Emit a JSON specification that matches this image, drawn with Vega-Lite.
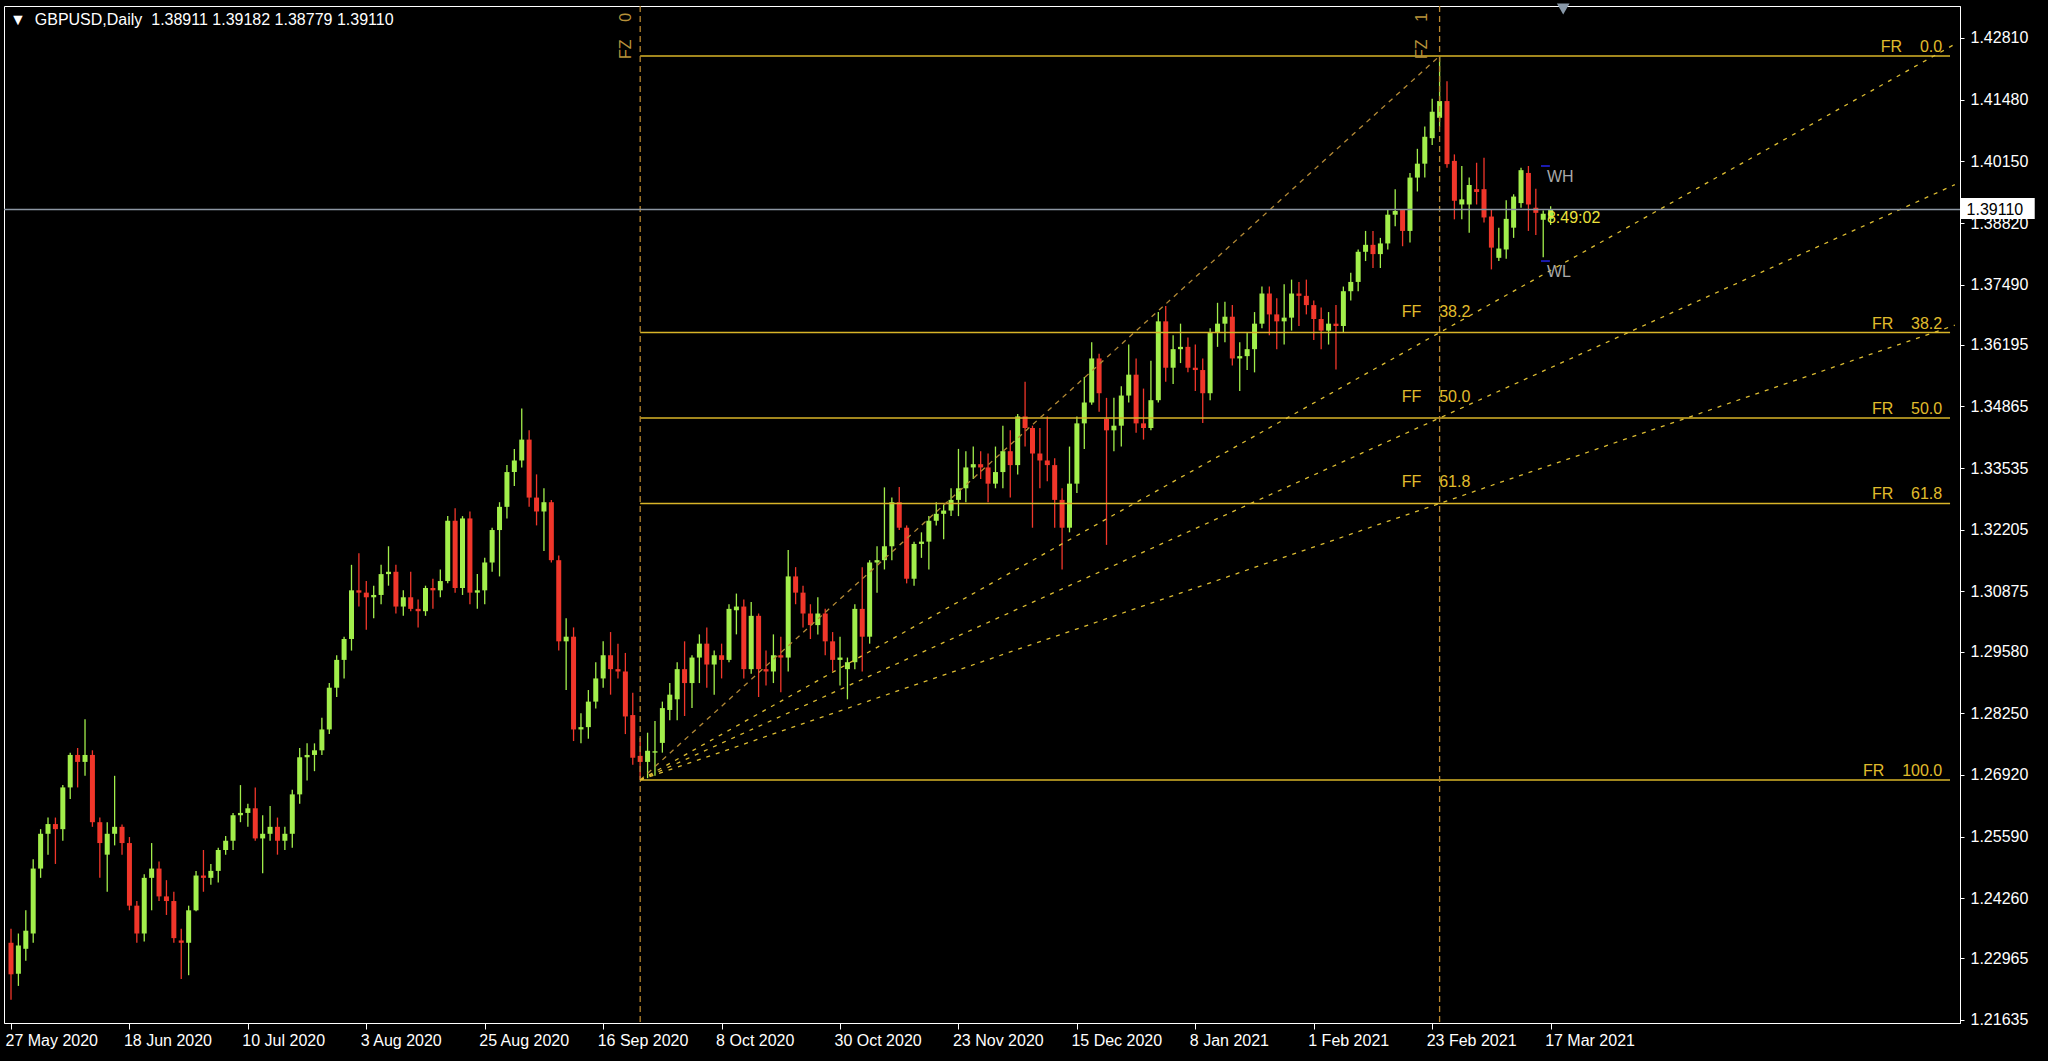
{
"$schema": "https://vega.github.io/schema/vega-lite/v6.json",
"width": 1956, "height": 1017,
"autosize": {"type": "none"},
"padding": {"left": 4, "top": 6, "right": 88, "bottom": 38},
"background": "#000000",
"config": {"view": {"stroke": "#FFFFFF", "strokeWidth": 1}, "font": "Liberation Sans", "text": {"font": "Liberation Sans", "fontSize": 16}, "axis": {"grid": false}},
"datasets": {
"candles": [
{"d":"2020-05-27","i":0,"o":1.2330,"h":1.2360,"l":1.2207,"c":1.2262},
{"d":"2020-05-28","i":1,"o":1.2263,"h":1.2350,"l":1.2237,"c":1.2324},
{"d":"2020-05-29","i":2,"o":1.2317,"h":1.2400,"l":1.2291,"c":1.2356},
{"d":"2020-06-01","i":3,"o":1.2350,"h":1.2510,"l":1.2330,"c":1.2490},
{"d":"2020-06-02","i":4,"o":1.2490,"h":1.2575,"l":1.2470,"c":1.2565},
{"d":"2020-06-03","i":5,"o":1.2565,"h":1.2600,"l":1.2520,"c":1.2586},
{"d":"2020-06-04","i":6,"o":1.2586,"h":1.2600,"l":1.2500,"c":1.2575},
{"d":"2020-06-05","i":7,"o":1.2575,"h":1.2670,"l":1.2550,"c":1.2665},
{"d":"2020-06-08","i":8,"o":1.2665,"h":1.2740,"l":1.2640,"c":1.2735},
{"d":"2020-06-09","i":9,"o":1.2735,"h":1.2750,"l":1.2665,"c":1.2720},
{"d":"2020-06-10","i":10,"o":1.2720,"h":1.2812,"l":1.2690,"c":1.2735},
{"d":"2020-06-11","i":11,"o":1.2735,"h":1.2745,"l":1.2580,"c":1.2590},
{"d":"2020-06-12","i":12,"o":1.2590,"h":1.2600,"l":1.2470,"c":1.2545},
{"d":"2020-06-15","i":13,"o":1.2520,"h":1.2590,"l":1.2440,"c":1.2565},
{"d":"2020-06-16","i":14,"o":1.2565,"h":1.2690,"l":1.2540,"c":1.2580},
{"d":"2020-06-17","i":15,"o":1.2580,"h":1.2585,"l":1.2520,"c":1.2545},
{"d":"2020-06-18","i":16,"o":1.2545,"h":1.2558,"l":1.2400,"c":1.2410},
{"d":"2020-06-19","i":17,"o":1.2410,"h":1.2420,"l":1.2330,"c":1.2350},
{"d":"2020-06-22","i":18,"o":1.2350,"h":1.2478,"l":1.2333,"c":1.2470},
{"d":"2020-06-23","i":19,"o":1.2470,"h":1.2545,"l":1.2400,"c":1.2490},
{"d":"2020-06-24","i":20,"o":1.2490,"h":1.2505,"l":1.2420,"c":1.2430},
{"d":"2020-06-25","i":21,"o":1.2430,"h":1.2465,"l":1.2390,"c":1.2420},
{"d":"2020-06-26","i":22,"o":1.2420,"h":1.2440,"l":1.2330,"c":1.2340},
{"d":"2020-06-29","i":23,"o":1.2335,"h":1.2360,"l":1.2252,"c":1.2330},
{"d":"2020-06-30","i":24,"o":1.2330,"h":1.2410,"l":1.2260,"c":1.2400},
{"d":"2020-07-01","i":25,"o":1.2400,"h":1.2485,"l":1.2398,"c":1.2475},
{"d":"2020-07-02","i":26,"o":1.2475,"h":1.2530,"l":1.2440,"c":1.2470},
{"d":"2020-07-03","i":27,"o":1.2470,"h":1.2500,"l":1.2455,"c":1.2485},
{"d":"2020-07-06","i":28,"o":1.2485,"h":1.2535,"l":1.2460,"c":1.2530},
{"d":"2020-07-07","i":29,"o":1.2530,"h":1.2560,"l":1.2520,"c":1.2550},
{"d":"2020-07-08","i":30,"o":1.2550,"h":1.2610,"l":1.2530,"c":1.2605},
{"d":"2020-07-09","i":31,"o":1.2605,"h":1.2670,"l":1.2590,"c":1.2610},
{"d":"2020-07-10","i":32,"o":1.2610,"h":1.2630,"l":1.2580,"c":1.2620},
{"d":"2020-07-13","i":33,"o":1.2620,"h":1.2665,"l":1.2550,"c":1.2555},
{"d":"2020-07-14","i":34,"o":1.2555,"h":1.2605,"l":1.2480,"c":1.2565},
{"d":"2020-07-15","i":35,"o":1.2565,"h":1.2625,"l":1.2550,"c":1.2580},
{"d":"2020-07-16","i":36,"o":1.2580,"h":1.2600,"l":1.2520,"c":1.2550},
{"d":"2020-07-17","i":37,"o":1.2550,"h":1.2580,"l":1.2530,"c":1.2565},
{"d":"2020-07-20","i":38,"o":1.2565,"h":1.2660,"l":1.2535,"c":1.2650},
{"d":"2020-07-21","i":39,"o":1.2650,"h":1.2750,"l":1.2630,"c":1.2730},
{"d":"2020-07-22","i":40,"o":1.2730,"h":1.2760,"l":1.2680,"c":1.2735},
{"d":"2020-07-23","i":41,"o":1.2735,"h":1.2760,"l":1.2700,"c":1.2745},
{"d":"2020-07-24","i":42,"o":1.2745,"h":1.2815,"l":1.2735,"c":1.2790},
{"d":"2020-07-27","i":43,"o":1.2790,"h":1.2890,"l":1.2780,"c":1.2880},
{"d":"2020-07-28","i":44,"o":1.2880,"h":1.2950,"l":1.2860,"c":1.2940},
{"d":"2020-07-29","i":45,"o":1.2940,"h":1.2990,"l":1.2900,"c":1.2985},
{"d":"2020-07-30","i":46,"o":1.2985,"h":1.3145,"l":1.2960,"c":1.3090},
{"d":"2020-07-31","i":47,"o":1.3090,"h":1.3170,"l":1.3055,"c":1.3085},
{"d":"2020-08-03","i":48,"o":1.3085,"h":1.3110,"l":1.3005,"c":1.3075},
{"d":"2020-08-04","i":49,"o":1.3075,"h":1.3100,"l":1.3030,"c":1.3080},
{"d":"2020-08-05","i":50,"o":1.3080,"h":1.3145,"l":1.3060,"c":1.3125},
{"d":"2020-08-06","i":51,"o":1.3125,"h":1.3185,"l":1.3100,"c":1.3130},
{"d":"2020-08-07","i":52,"o":1.3130,"h":1.3145,"l":1.3040,"c":1.3055},
{"d":"2020-08-10","i":53,"o":1.3055,"h":1.3090,"l":1.3035,"c":1.3075},
{"d":"2020-08-11","i":54,"o":1.3075,"h":1.3130,"l":1.3045,"c":1.3050},
{"d":"2020-08-12","i":55,"o":1.3050,"h":1.3070,"l":1.3010,"c":1.3045},
{"d":"2020-08-13","i":56,"o":1.3045,"h":1.3100,"l":1.3035,"c":1.3095},
{"d":"2020-08-14","i":57,"o":1.3095,"h":1.3115,"l":1.3050,"c":1.3090},
{"d":"2020-08-17","i":58,"o":1.3090,"h":1.3135,"l":1.3075,"c":1.3110},
{"d":"2020-08-18","i":59,"o":1.3110,"h":1.3250,"l":1.3105,"c":1.3240},
{"d":"2020-08-19","i":60,"o":1.3240,"h":1.3267,"l":1.3085,"c":1.3095},
{"d":"2020-08-20","i":61,"o":1.3095,"h":1.3250,"l":1.3080,"c":1.3245},
{"d":"2020-08-21","i":62,"o":1.3245,"h":1.3260,"l":1.3060,"c":1.3085},
{"d":"2020-08-24","i":63,"o":1.3085,"h":1.3125,"l":1.3050,"c":1.3090},
{"d":"2020-08-25","i":64,"o":1.3090,"h":1.3160,"l":1.3060,"c":1.3150},
{"d":"2020-08-26","i":65,"o":1.3150,"h":1.3225,"l":1.3130,"c":1.3220},
{"d":"2020-08-27","i":66,"o":1.3220,"h":1.3280,"l":1.3120,"c":1.3270},
{"d":"2020-08-28","i":67,"o":1.3270,"h":1.3360,"l":1.3245,"c":1.3345},
{"d":"2020-08-31","i":68,"o":1.3345,"h":1.3395,"l":1.3315,"c":1.3370},
{"d":"2020-09-01","i":69,"o":1.3370,"h":1.3482,"l":1.3355,"c":1.3415},
{"d":"2020-09-02","i":70,"o":1.3415,"h":1.3435,"l":1.3270,"c":1.3290},
{"d":"2020-09-03","i":71,"o":1.3290,"h":1.3340,"l":1.3230,"c":1.3260},
{"d":"2020-09-04","i":72,"o":1.3260,"h":1.3310,"l":1.3175,"c":1.3280},
{"d":"2020-09-07","i":73,"o":1.3280,"h":1.3285,"l":1.3150,"c":1.3155},
{"d":"2020-09-08","i":74,"o":1.3155,"h":1.3165,"l":1.2960,"c":1.2980},
{"d":"2020-09-09","i":75,"o":1.2980,"h":1.3030,"l":1.2875,"c":1.2990},
{"d":"2020-09-10","i":76,"o":1.2990,"h":1.3010,"l":1.2765,"c":1.2790},
{"d":"2020-09-11","i":77,"o":1.2790,"h":1.2825,"l":1.2760,"c":1.2795},
{"d":"2020-09-14","i":78,"o":1.2795,"h":1.2875,"l":1.2770,"c":1.2850},
{"d":"2020-09-15","i":79,"o":1.2850,"h":1.2935,"l":1.2835,"c":1.2900},
{"d":"2020-09-16","i":80,"o":1.2900,"h":1.2980,"l":1.2880,"c":1.2950},
{"d":"2020-09-17","i":81,"o":1.2950,"h":1.3000,"l":1.2865,"c":1.2920},
{"d":"2020-09-18","i":82,"o":1.2920,"h":1.2975,"l":1.2900,"c":1.2915},
{"d":"2020-09-21","i":83,"o":1.2915,"h":1.2955,"l":1.2780,"c":1.2818},
{"d":"2020-09-22","i":84,"o":1.2821,"h":1.2869,"l":1.2714,"c":1.2729},
{"d":"2020-09-23","i":85,"o":1.2733,"h":1.2772,"l":1.2681,"c":1.2720},
{"d":"2020-09-24","i":86,"o":1.2720,"h":1.2783,"l":1.2685,"c":1.2744},
{"d":"2020-09-25","i":87,"o":1.2740,"h":1.2808,"l":1.2690,"c":1.2743},
{"d":"2020-09-28","i":88,"o":1.2761,"h":1.2850,"l":1.2740,"c":1.2836},
{"d":"2020-09-29","i":89,"o":1.2832,"h":1.2890,"l":1.2810,"c":1.2865},
{"d":"2020-09-30","i":90,"o":1.2855,"h":1.2935,"l":1.2810,"c":1.2920},
{"d":"2020-10-01","i":91,"o":1.2920,"h":1.2980,"l":1.2819,"c":1.2890},
{"d":"2020-10-02","i":92,"o":1.2890,"h":1.2950,"l":1.2836,"c":1.2945},
{"d":"2020-10-05","i":93,"o":1.2945,"h":1.2995,"l":1.2890,"c":1.2975},
{"d":"2020-10-06","i":94,"o":1.2975,"h":1.3010,"l":1.2880,"c":1.2930},
{"d":"2020-10-07","i":95,"o":1.2930,"h":1.2960,"l":1.2865,"c":1.2950},
{"d":"2020-10-08","i":96,"o":1.2950,"h":1.2975,"l":1.2900,"c":1.2940},
{"d":"2020-10-09","i":97,"o":1.2940,"h":1.3060,"l":1.2935,"c":1.3050},
{"d":"2020-10-12","i":98,"o":1.3047,"h":1.3083,"l":1.2995,"c":1.3055},
{"d":"2020-10-13","i":99,"o":1.3055,"h":1.3070,"l":1.2900,"c":1.2920},
{"d":"2020-10-14","i":100,"o":1.2920,"h":1.3065,"l":1.2910,"c":1.3035},
{"d":"2020-10-15","i":101,"o":1.3035,"h":1.3040,"l":1.2860,"c":1.2920},
{"d":"2020-10-16","i":102,"o":1.2920,"h":1.2960,"l":1.2885,"c":1.2915},
{"d":"2020-10-19","i":103,"o":1.2915,"h":1.2995,"l":1.2890,"c":1.2950},
{"d":"2020-10-20","i":104,"o":1.2950,"h":1.2990,"l":1.2870,"c":1.2945},
{"d":"2020-10-21","i":105,"o":1.2945,"h":1.3177,"l":1.2915,"c":1.3120},
{"d":"2020-10-22","i":106,"o":1.3120,"h":1.3140,"l":1.3060,"c":1.3085},
{"d":"2020-10-23","i":107,"o":1.3085,"h":1.3100,"l":1.3010,"c":1.3040},
{"d":"2020-10-26","i":108,"o":1.3040,"h":1.3060,"l":1.2985,"c":1.3015},
{"d":"2020-10-27","i":109,"o":1.3015,"h":1.3075,"l":1.2995,"c":1.3040},
{"d":"2020-10-28","i":110,"o":1.3040,"h":1.3050,"l":1.2950,"c":1.2980},
{"d":"2020-10-29","i":111,"o":1.2980,"h":1.3000,"l":1.2915,"c":1.2940},
{"d":"2020-10-30","i":112,"o":1.2940,"h":1.2990,"l":1.2885,"c":1.2945},
{"d":"2020-11-02","i":113,"o":1.2920,"h":1.2945,"l":1.2855,"c":1.2935},
{"d":"2020-11-03","i":114,"o":1.2935,"h":1.3060,"l":1.2920,"c":1.3050},
{"d":"2020-11-04","i":115,"o":1.3050,"h":1.3140,"l":1.2915,"c":1.2990},
{"d":"2020-11-05","i":116,"o":1.2990,"h":1.3155,"l":1.2975,"c":1.3150},
{"d":"2020-11-06","i":117,"o":1.3150,"h":1.3185,"l":1.3085,"c":1.3155},
{"d":"2020-11-09","i":118,"o":1.3155,"h":1.3312,"l":1.3135,"c":1.3185},
{"d":"2020-11-10","i":119,"o":1.3185,"h":1.3290,"l":1.3155,"c":1.3280},
{"d":"2020-11-11","i":120,"o":1.3280,"h":1.3313,"l":1.3220,"c":1.3225},
{"d":"2020-11-12","i":121,"o":1.3225,"h":1.3230,"l":1.3105,"c":1.3115},
{"d":"2020-11-13","i":122,"o":1.3115,"h":1.3195,"l":1.3100,"c":1.3190},
{"d":"2020-11-16","i":123,"o":1.3190,"h":1.3215,"l":1.3160,"c":1.3195},
{"d":"2020-11-17","i":124,"o":1.3195,"h":1.3250,"l":1.3135,"c":1.3240},
{"d":"2020-11-18","i":125,"o":1.3240,"h":1.3280,"l":1.3230,"c":1.3255},
{"d":"2020-11-19","i":126,"o":1.3255,"h":1.3275,"l":1.3200,"c":1.3262},
{"d":"2020-11-20","i":127,"o":1.3262,"h":1.3310,"l":1.3250,"c":1.3285},
{"d":"2020-11-23","i":128,"o":1.3285,"h":1.3395,"l":1.3250,"c":1.3310},
{"d":"2020-11-24","i":129,"o":1.3310,"h":1.3390,"l":1.3280,"c":1.3355},
{"d":"2020-11-25","i":130,"o":1.3355,"h":1.3400,"l":1.3330,"c":1.3362},
{"d":"2020-11-26","i":131,"o":1.3362,"h":1.3390,"l":1.3330,"c":1.3355},
{"d":"2020-11-27","i":132,"o":1.3355,"h":1.3385,"l":1.3280,"c":1.3320},
{"d":"2020-11-30","i":133,"o":1.3320,"h":1.3400,"l":1.3310,"c":1.3345},
{"d":"2020-12-01","i":134,"o":1.3345,"h":1.3445,"l":1.3310,"c":1.3390},
{"d":"2020-12-02","i":135,"o":1.3390,"h":1.3435,"l":1.3290,"c":1.3360},
{"d":"2020-12-03","i":136,"o":1.3360,"h":1.3470,"l":1.3340,"c":1.3465},
{"d":"2020-12-04","i":137,"o":1.3465,"h":1.3540,"l":1.3400,"c":1.3440},
{"d":"2020-12-07","i":138,"o":1.3440,"h":1.3445,"l":1.3225,"c":1.3385},
{"d":"2020-12-08","i":139,"o":1.3385,"h":1.3440,"l":1.3310,"c":1.3370},
{"d":"2020-12-09","i":140,"o":1.3370,"h":1.3465,"l":1.3325,"c":1.3360},
{"d":"2020-12-10","i":141,"o":1.3360,"h":1.3375,"l":1.3225,"c":1.3285},
{"d":"2020-12-11","i":142,"o":1.3285,"h":1.3310,"l":1.3135,"c":1.3225},
{"d":"2020-12-14","i":143,"o":1.3225,"h":1.3400,"l":1.3215,"c":1.3320},
{"d":"2020-12-15","i":144,"o":1.3320,"h":1.3465,"l":1.3300,"c":1.3450},
{"d":"2020-12-16","i":145,"o":1.3450,"h":1.3550,"l":1.3395,"c":1.3495},
{"d":"2020-12-17","i":146,"o":1.3495,"h":1.3625,"l":1.3490,"c":1.3590},
{"d":"2020-12-18","i":147,"o":1.3590,"h":1.3600,"l":1.3475,"c":1.3515},
{"d":"2020-12-21","i":148,"o":1.3460,"h":1.3505,"l":1.3188,"c":1.3435},
{"d":"2020-12-22","i":149,"o":1.3435,"h":1.3505,"l":1.3390,"c":1.3445},
{"d":"2020-12-23","i":150,"o":1.3445,"h":1.3530,"l":1.3400,"c":1.3510},
{"d":"2020-12-24","i":151,"o":1.3510,"h":1.3620,"l":1.3495,"c":1.3555},
{"d":"2020-12-28","i":152,"o":1.3555,"h":1.3590,"l":1.3430,"c":1.3450},
{"d":"2020-12-29","i":153,"o":1.3450,"h":1.3525,"l":1.3415,"c":1.3440},
{"d":"2020-12-30","i":154,"o":1.3440,"h":1.3585,"l":1.3435,"c":1.3500},
{"d":"2020-12-31","i":155,"o":1.3500,"h":1.3690,"l":1.3495,"c":1.3670},
{"d":"2021-01-04","i":156,"o":1.3670,"h":1.3703,"l":1.3540,"c":1.3570},
{"d":"2021-01-05","i":157,"o":1.3570,"h":1.3640,"l":1.3535,"c":1.3610},
{"d":"2021-01-06","i":158,"o":1.3610,"h":1.3665,"l":1.3580,"c":1.3615},
{"d":"2021-01-07","i":159,"o":1.3615,"h":1.3635,"l":1.3560,"c":1.3570},
{"d":"2021-01-08","i":160,"o":1.3570,"h":1.3620,"l":1.3520,"c":1.3565},
{"d":"2021-01-11","i":161,"o":1.3565,"h":1.3590,"l":1.3451,"c":1.3515},
{"d":"2021-01-12","i":162,"o":1.3515,"h":1.3655,"l":1.3500,"c":1.3645},
{"d":"2021-01-13","i":163,"o":1.3645,"h":1.3710,"l":1.3615,"c":1.3665},
{"d":"2021-01-14","i":164,"o":1.3665,"h":1.3712,"l":1.3625,"c":1.3680},
{"d":"2021-01-15","i":165,"o":1.3680,"h":1.3705,"l":1.3575,"c":1.3590},
{"d":"2021-01-18","i":166,"o":1.3590,"h":1.3625,"l":1.3520,"c":1.3595},
{"d":"2021-01-19","i":167,"o":1.3595,"h":1.3645,"l":1.3565,"c":1.3610},
{"d":"2021-01-20","i":168,"o":1.3610,"h":1.3690,"l":1.3560,"c":1.3665},
{"d":"2021-01-21","i":169,"o":1.3665,"h":1.3745,"l":1.3655,"c":1.3730},
{"d":"2021-01-22","i":170,"o":1.3730,"h":1.3745,"l":1.3640,"c":1.3685},
{"d":"2021-01-25","i":171,"o":1.3685,"h":1.3720,"l":1.3610,"c":1.3670},
{"d":"2021-01-26","i":172,"o":1.3670,"h":1.3750,"l":1.3620,"c":1.3678},
{"d":"2021-01-27","i":173,"o":1.3678,"h":1.3760,"l":1.3650,"c":1.3730},
{"d":"2021-01-28","i":174,"o":1.3730,"h":1.3755,"l":1.3660,"c":1.3725},
{"d":"2021-01-29","i":175,"o":1.3725,"h":1.3760,"l":1.3685,"c":1.3705},
{"d":"2021-02-01","i":176,"o":1.3705,"h":1.3715,"l":1.3630,"c":1.3675},
{"d":"2021-02-02","i":177,"o":1.3675,"h":1.3700,"l":1.3610,"c":1.3650},
{"d":"2021-02-03","i":178,"o":1.3650,"h":1.3690,"l":1.3620,"c":1.3665},
{"d":"2021-02-04","i":179,"o":1.3665,"h":1.3705,"l":1.3566,"c":1.3660},
{"d":"2021-02-05","i":180,"o":1.3660,"h":1.3745,"l":1.3645,"c":1.3735},
{"d":"2021-02-08","i":181,"o":1.3735,"h":1.3775,"l":1.3715,"c":1.3755},
{"d":"2021-02-09","i":182,"o":1.3755,"h":1.3825,"l":1.3735,"c":1.3820},
{"d":"2021-02-10","i":183,"o":1.3820,"h":1.3865,"l":1.3800,"c":1.3835},
{"d":"2021-02-11","i":184,"o":1.3835,"h":1.3865,"l":1.3785,"c":1.3815},
{"d":"2021-02-12","i":185,"o":1.3815,"h":1.3850,"l":1.3785,"c":1.3838},
{"d":"2021-02-15","i":186,"o":1.3838,"h":1.3910,"l":1.3825,"c":1.3900},
{"d":"2021-02-16","i":187,"o":1.3900,"h":1.3955,"l":1.3875,"c":1.3908},
{"d":"2021-02-17","i":188,"o":1.3910,"h":1.3912,"l":1.3832,"c":1.3865},
{"d":"2021-02-18","i":189,"o":1.3865,"h":1.3990,"l":1.3840,"c":1.3980},
{"d":"2021-02-19","i":190,"o":1.3980,"h":1.4042,"l":1.3950,"c":1.4010},
{"d":"2021-02-22","i":191,"o":1.4010,"h":1.4090,"l":1.3980,"c":1.4068},
{"d":"2021-02-23","i":192,"o":1.4065,"h":1.4150,"l":1.4050,"c":1.4122},
{"d":"2021-02-24","i":193,"o":1.4109,"h":1.4242,"l":1.4090,"c":1.4145},
{"d":"2021-02-25","i":194,"o":1.4145,"h":1.4188,"l":1.4001,"c":1.4009},
{"d":"2021-02-26","i":195,"o":1.4016,"h":1.4030,"l":1.3890,"c":1.3930},
{"d":"2021-03-01","i":196,"o":1.3922,"h":1.4005,"l":1.3890,"c":1.3933},
{"d":"2021-03-02","i":197,"o":1.3922,"h":1.3980,"l":1.3861,"c":1.3964},
{"d":"2021-03-03","i":198,"o":1.3955,"h":1.4012,"l":1.3922,"c":1.3949},
{"d":"2021-03-04","i":199,"o":1.3955,"h":1.4023,"l":1.3883,"c":1.3894},
{"d":"2021-03-05","i":200,"o":1.3896,"h":1.3912,"l":1.3782,"c":1.3829},
{"d":"2021-03-08","i":201,"o":1.3807,"h":1.3872,"l":1.3800,"c":1.3827},
{"d":"2021-03-09","i":202,"o":1.3825,"h":1.3931,"l":1.3805,"c":1.3891},
{"d":"2021-03-10","i":203,"o":1.3872,"h":1.3944,"l":1.3850,"c":1.3939},
{"d":"2021-03-11","i":204,"o":1.3925,"h":1.4001,"l":1.3915,"c":1.3996},
{"d":"2021-03-12","i":205,"o":1.3990,"h":1.4005,"l":1.3865,"c":1.3922},
{"d":"2021-03-15","i":206,"o":1.3915,"h":1.3956,"l":1.3856,"c":1.3904},
{"d":"2021-03-16","i":207,"o":1.3889,"h":1.3909,"l":1.3808,"c":1.3902},
{"d":"2021-03-17","i":208,"o":1.38911,"h":1.39182,"l":1.38779,"c":1.39110}
],
"fib": [
{"p":1.42422,"fr":"FR\u00a0\u00a0\u00a0\u00a00.0"},
{"p":1.36458,"fr":"FR\u00a0\u00a0\u00a0\u00a038.2","ff":"FF\u00a0\u00a0\u00a0\u00a038.2"},
{"p":1.34616,"fr":"FR\u00a0\u00a0\u00a0\u00a050.0","ff":"FF\u00a0\u00a0\u00a0\u00a050.0"},
{"p":1.32774,"fr":"FR\u00a0\u00a0\u00a0\u00a061.8","ff":"FF\u00a0\u00a0\u00a0\u00a061.8"},
{"p":1.2681,"fr":"FR\u00a0\u00a0\u00a0\u00a0100.0"}
],
"fz": [
{"i":85,"t":"FZ\u00a0\u00a0\u00a0\u00a00","ti":83.1},
{"i":193,"t":"FZ\u00a0\u00a0\u00a0\u00a01","ti":190.6}
],
"trend": [
{"i":85,"p":1.2681},
{"i":193,"p":1.42422}
],
"fan": [
{"k":"38.2","i":85,"p":1.2681},{"k":"38.2","i":262.6,"p":1.42676},
{"k":"50.0","i":85,"p":1.2681},{"k":"50.0","i":262.6,"p":1.39647},
{"k":"61.8","i":85,"p":1.2681},{"k":"61.8","i":262.6,"p":1.36617}
],
"week": [
{"t":"WH","p":1.4005,"tp":1.39813},
{"t":"WL","p":1.3800,"tp":1.37764}
],
"price": [
{"p":1.3911,"t":"1.39110","top":1.3936,"bot":1.38907}
],
"info": [
{"t":"▼\u00a0\u00a0GBPUSD,Daily\u00a0\u00a01.38911 1.39182 1.38779 1.39110","timer":"8:49:02"}
]
},
"layer": [
{
"data": {"name": "candles"},
"mark": {"type": "rule", "strokeWidth": 1.3},
"encoding": {
"x": {"field": "i", "type": "quantitative", "scale": {"domain": [-0.27, 262.63], "nice": false, "zero": false},
 "axis": {"values": [0,16,32,48,64,80,96,112,128,144,160,176,192,208],
  "labelExpr": "['27 May 2020','18 Jun 2020','10 Jul 2020','3 Aug 2020','25 Aug 2020','16 Sep 2020','8 Oct 2020','30 Oct 2020','23 Nov 2020','15 Dec 2020','8 Jan 2021','1 Feb 2021','23 Feb 2021','17 Mar 2021'][round(datum.value/16)]",
  "title": null, "grid": false, "domainColor": "#FFFFFF", "tickColor": "#FFFFFF", "tickSize": 6,
  "labelColor": "#FFFFFF", "labelFont": "Liberation Sans", "labelFontSize": 16, "labelAlign": "left", "labelBaseline": "top",
  "labelPadding": 3, "labelFlush": false, "labelOverlap": false, "labelOffset": -6}},
"y": {"field": "l", "type": "quantitative", "scale": {"domain": [1.2157, 1.435], "nice": false, "zero": false},
 "axis": {"orient": "right", "values": [1.4281,1.4148,1.4015,1.3882,1.3749,1.36195,1.34865,1.33535,1.32205,1.30875,1.2958,1.2825,1.2692,1.2559,1.2426,1.22965,1.21635],
  "format": ".5f", "title": null, "grid": false, "domainColor": "#FFFFFF", "tickColor": "#FFFFFF", "tickSize": 4,
  "labelColor": "#FFFFFF", "labelFont": "Liberation Sans", "labelFontSize": 16, "labelPadding": 6, "labelFlush": false, "labelOverlap": false}},
"y2": {"field": "h"},
"color": {"condition": {"test": "datum.c >= datum.o", "value": "#A2EE4B"}, "value": "#F0362A"}
}
},
{
"data": {"name": "candles"},
"mark": {"type": "bar", "size": 5},
"encoding": {
"x": {"field": "i", "type": "quantitative", "scale": {"domain": [-0.27, 262.63], "nice": false, "zero": false}},
"y": {"field": "o", "type": "quantitative", "scale": {"domain": [1.2157, 1.435], "nice": false, "zero": false}},
"y2": {"field": "c"},
"color": {"condition": {"test": "datum.c >= datum.o", "value": "#A2EE4B"}, "value": "#F0362A"}
}
},
{
"data": {"name": "fib"},
"mark": {"type": "rule", "color": "#D8B428", "strokeWidth": 1.5},
"encoding": {
"x": {"datum": 85, "type": "quantitative", "scale": {"domain": [-0.27, 262.63], "nice": false, "zero": false}},
"x2": {"datum": 261.96},
"y": {"field": "p", "type": "quantitative", "scale": {"domain": [1.2157, 1.435], "nice": false, "zero": false}}
}
},
{
"data": {"name": "fz"},
"mark": {"type": "rule", "color": "#B8862E", "strokeWidth": 1.3, "strokeDash": [6, 4]},
"encoding": {
"x": {"field": "i", "type": "quantitative", "scale": {"domain": [-0.27, 262.63], "nice": false, "zero": false}}
}
},
{
"data": {"name": "trend"},
"mark": {"type": "line", "color": "#B48A35", "strokeWidth": 1.3, "strokeDash": [5, 5]},
"encoding": {
"x": {"field": "i", "type": "quantitative", "scale": {"domain": [-0.27, 262.63], "nice": false, "zero": false}},
"y": {"field": "p", "type": "quantitative", "scale": {"domain": [1.2157, 1.435], "nice": false, "zero": false}}
}
},
{
"data": {"name": "fan"},
"mark": {"type": "line", "color": "#DCBC32", "strokeWidth": 1.3, "strokeDash": [4, 6]},
"encoding": {
"x": {"field": "i", "type": "quantitative", "scale": {"domain": [-0.27, 262.63], "nice": false, "zero": false}},
"y": {"field": "p", "type": "quantitative", "scale": {"domain": [1.2157, 1.435], "nice": false, "zero": false}},
"detail": {"field": "k"}
}
},
{
"data": {"name": "fib"},
"mark": {"type": "text", "align": "right", "baseline": "alphabetic", "dy": -4, "color": "#E0BC2C", "fontSize": 16},
"encoding": {
"x": {"datum": 260.9, "type": "quantitative", "scale": {"domain": [-0.27, 262.63], "nice": false, "zero": false}},
"y": {"field": "p", "type": "quantitative", "scale": {"domain": [1.2157, 1.435], "nice": false, "zero": false}},
"text": {"field": "fr"}
}
},
{
"data": {"name": "fib"},
"transform": [{"filter": "datum.ff"}],
"mark": {"type": "text", "align": "left", "baseline": "alphabetic", "dy": -16, "color": "#E0BC2C", "fontSize": 16},
"encoding": {
"x": {"datum": 187.9, "type": "quantitative", "scale": {"domain": [-0.27, 262.63], "nice": false, "zero": false}},
"y": {"field": "p", "type": "quantitative", "scale": {"domain": [1.2157, 1.435], "nice": false, "zero": false}},
"text": {"field": "ff"}
}
},
{
"data": {"name": "fz"},
"mark": {"type": "text", "angle": 270, "align": "left", "baseline": "middle", "color": "#B8923A", "fontSize": 16},
"encoding": {
"x": {"field": "ti", "type": "quantitative", "scale": {"domain": [-0.27, 262.63], "nice": false, "zero": false}},
"y": {"datum": 1.42357, "type": "quantitative", "scale": {"domain": [1.2157, 1.435], "nice": false, "zero": false}},
"text": {"field": "t"}
}
},
{
"data": {"name": "price"},
"mark": {"type": "rule", "color": "#8C96A2", "strokeWidth": 1.5},
"encoding": {
"y": {"field": "p", "type": "quantitative", "scale": {"domain": [1.2157, 1.435], "nice": false, "zero": false}}
}
},
{
"data": {"name": "week"},
"mark": {"type": "rule", "color": "#1A1AB0", "strokeWidth": 2},
"encoding": {
"x": {"datum": 206.7, "type": "quantitative", "scale": {"domain": [-0.27, 262.63], "nice": false, "zero": false}},
"x2": {"datum": 207.9},
"y": {"field": "p", "type": "quantitative", "scale": {"domain": [1.2157, 1.435], "nice": false, "zero": false}}
}
},
{
"data": {"name": "week"},
"mark": {"type": "text", "align": "left", "baseline": "middle", "color": "#A8A8A8", "fontSize": 16},
"encoding": {
"x": {"datum": 207.5, "type": "quantitative", "scale": {"domain": [-0.27, 262.63], "nice": false, "zero": false}},
"y": {"field": "tp", "type": "quantitative", "scale": {"domain": [1.2157, 1.435], "nice": false, "zero": false}},
"text": {"field": "t"}
}
},
{
"data": {"name": "info"},
"mark": {"type": "text", "align": "left", "baseline": "middle", "color": "#ECE23C", "fontSize": 16},
"encoding": {
"x": {"datum": 207.5, "type": "quantitative", "scale": {"domain": [-0.27, 262.63], "nice": false, "zero": false}},
"y": {"datum": 1.38929, "type": "quantitative", "scale": {"domain": [1.2157, 1.435], "nice": false, "zero": false}},
"text": {"field": "timer"}
}
},
{
"data": {"name": "info"},
"mark": {"type": "text", "align": "left", "baseline": "middle", "color": "#FFFFFF", "fontSize": 16},
"encoding": {
"x": {"datum": -0.13, "type": "quantitative", "scale": {"domain": [-0.27, 262.63], "nice": false, "zero": false}},
"y": {"datum": 1.43198, "type": "quantitative", "scale": {"domain": [1.2157, 1.435], "nice": false, "zero": false}},
"text": {"field": "t"}
}
},
{
"data": {"name": "info"},
"mark": {"type": "point", "shape": "triangle-down", "filled": true, "color": "#8898A8", "size": 160, "opacity": 1, "clip": false},
"encoding": {
"x": {"datum": 209.7, "type": "quantitative", "scale": {"domain": [-0.27, 262.63], "nice": false, "zero": false}},
"y": {"datum": 1.43435, "type": "quantitative", "scale": {"domain": [1.2157, 1.435], "nice": false, "zero": false}}
}
},
{
"data": {"name": "price"},
"mark": {"type": "rect", "fill": "#FFFFFF", "clip": false},
"encoding": {
"x": {"datum": 263.4, "type": "quantitative", "scale": {"domain": [-0.27, 262.63], "nice": false, "zero": false}},
"x2": {"datum": 273.4},
"y": {"field": "top", "type": "quantitative", "scale": {"domain": [1.2157, 1.435], "nice": false, "zero": false}},
"y2": {"field": "bot"}
}
},
{
"data": {"name": "price"},
"mark": {"type": "text", "align": "left", "baseline": "middle", "color": "#000000", "fontSize": 16, "clip": false},
"encoding": {
"x": {"datum": 264.2, "type": "quantitative", "scale": {"domain": [-0.27, 262.63], "nice": false, "zero": false}},
"y": {"field": "p", "type": "quantitative", "scale": {"domain": [1.2157, 1.435], "nice": false, "zero": false}},
"text": {"field": "t"}
}
}
]
}
